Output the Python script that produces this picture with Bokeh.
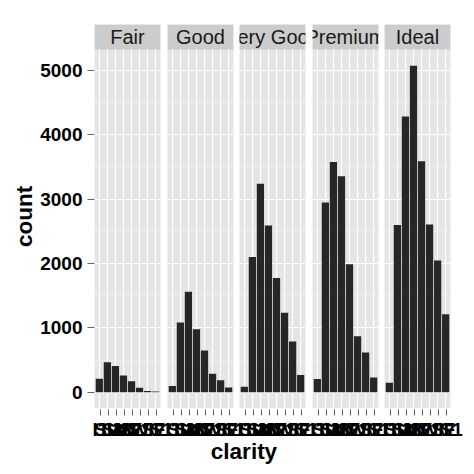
import numpy as np
from bokeh.plotting import figure
from bokeh.layouts import row, column
from bokeh.models import Range1d, FixedTicker
from bokeh.core.properties import value
from bokeh.embed import file_html
from bokeh.resources import INLINE

# ---- data (diamonds: count by cut x clarity) ----
cuts = ["Fair", "Good", "Very Good", "Premium", "Ideal"]
clarity = ["I1", "SI2", "SI1", "VS2", "VS1", "VVS2", "VVS1", "IF"]
fair = [210, 466, 408, 261, 170, 69, 17, 9]
good = [96, 1081, 1560, 978, 648, 286, 186, 71]
very_good = [84, 2100, 3240, 2591, 1775, 1235, 789, 268]
premium = [205, 2949, 3575, 3357, 1989, 870, 616, 230]
ideal = [146, 2598, 4282, 5071, 3589, 2606, 2047, 1212]
y_ticks = [0, 1000, 2000, 3000, 4000, 5000]
y_minor = [500, 1500, 2500, 3500, 4500]

series = [fair, good, very_good, premium, ideal]

# ---- styling / layout ----
FONT = "Liberation Sans"
PANEL_BG = "#E5E5E5"
STRIP_BG = "#CCCCCC"
BAR = "#262626"
TICK = "#666666"

frame_w = 66
panel_h = 359
strip_h = 25
frame_h = panel_h + strip_h
top_border = 24
panel_left = [95, 168, 240, 313, 385]           # page x of each panel
borders = [(0, 3), (4, 3), (3, 4), (3, 3), (3, 23)]
left_margin = 9                                  # space left of the y axis

n = len(clarity)
xs = np.arange(1, n + 1)
ymax = max(max(s) for s in series)
ylo = -0.05 * ymax
yhi = 1.05 * ymax
y_end = ylo + (yhi - ylo) * frame_h / panel_h
x_lo, x_hi = 1 - 0.6, n + 0.6

figs = []
for k, (cut, vals) in enumerate(zip(cuts, series)):
    bl, br = borders[k]
    p = figure(frame_width=frame_w, frame_height=frame_h,
               x_range=Range1d(x_lo, x_hi), y_range=Range1d(ylo, y_end),
               output_backend="svg", toolbar_location=None,
               x_axis_location=None,
               y_axis_location="left" if k == 0 else None,
               min_border_left=bl, min_border_right=br,
               min_border_top=top_border, min_border_bottom=0,
               margin=(0, 0, 0, left_margin) if k == 0 else None)
    p.outline_line_color = None
    p.background_fill_color = PANEL_BG
    p.border_fill_color = "white"

    p.xgrid.ticker = FixedTicker(ticks=list(xs))
    p.xgrid.grid_line_color = "white"
    p.xgrid.grid_line_width = 1.1
    p.ygrid.ticker = FixedTicker(ticks=y_ticks, minor_ticks=y_minor)
    p.ygrid.grid_line_color = "white"
    p.ygrid.grid_line_width = 1.1
    p.ygrid.minor_grid_line_color = "#F2F2F2"
    p.ygrid.minor_grid_line_width = 0.7

    if k == 0:
        ya = p.yaxis[0]
        ya.ticker = FixedTicker(ticks=y_ticks)
        ya.axis_line_color = None
        ya.major_tick_line_color = TICK
        ya.major_tick_out = 7
        ya.major_tick_in = 0
        ya.minor_tick_line_color = None
        ya.major_label_standoff = 5
        ya.major_label_text_font = FONT
        ya.major_label_text_font_style = "bold"
        ya.major_label_text_font_size = "19px"
        ya.major_label_text_color = "black"
        ya.axis_label = "count"
        ya.axis_label_text_font = FONT
        ya.axis_label_text_font_style = "bold"
        ya.axis_label_text_font_size = "22.5px"
        ya.axis_label_text_color = "black"
        ya.axis_label_standoff = 0

    p.vbar(x=xs, top=vals, bottom=0, width=0.9, fill_color=BAR, line_color=None)

    # facet strip
    p.quad(left=[x_lo], right=[x_hi], bottom=[yhi], top=[y_end],
           fill_color=STRIP_BG, line_color=None)
    p.text(x=[(x_lo + x_hi) / 2], y=[(yhi + y_end) / 2], text=[cut],
           text_align="center", text_baseline="middle",
           text_font=value(FONT), text_font_size="20px", text_color="#1A1A1A")
    figs.append(p)

# ---- shared bottom axis (clarity ticks of all facets + title) ----
px_per_unit = frame_w / (x_hi - x_lo)
tick_pos = []
overrides = {}
for k in range(len(cuts)):
    for j, c in enumerate(clarity):
        t = round(panel_left[k] + (xs[j] - x_lo) * px_per_unit, 2)
        tick_pos.append(t)
        overrides[t] = c

ax_left, ax_right = 36, 451
bot = figure(frame_width=ax_right - ax_left, frame_height=1,
             x_range=Range1d(ax_left, ax_right), y_range=Range1d(0, 1),
             output_backend="svg", toolbar_location=None, y_axis_location=None,
             min_border_left=ax_left, min_border_right=474 - ax_right,
             min_border_top=0, min_border_bottom=0)
bot.outline_line_color = None
bot.background_fill_color = "white"
bot.xgrid.visible = False
bot.ygrid.visible = False
xa = bot.xaxis[0]
xa.ticker = FixedTicker(ticks=tick_pos)
xa.major_label_overrides = overrides
xa.axis_line_color = None
xa.major_tick_line_color = TICK
xa.major_tick_out = 6
xa.major_tick_in = 0
xa.minor_tick_line_color = None
xa.major_label_standoff = 3
xa.major_label_text_font = FONT
xa.major_label_text_font_style = "bold"
xa.major_label_text_font_size = "19px"
xa.major_label_text_color = "black"
xa.axis_label = "clarity"
xa.axis_label_text_font = FONT
xa.axis_label_text_font_style = "bold"
xa.axis_label_text_font_size = "22.5px"
xa.axis_label_text_color = "black"
xa.axis_label_standoff = -4

layout = column(row(*figs, spacing=0), bot, spacing=0)
open("out.html", "w").write(file_html(layout, INLINE))
